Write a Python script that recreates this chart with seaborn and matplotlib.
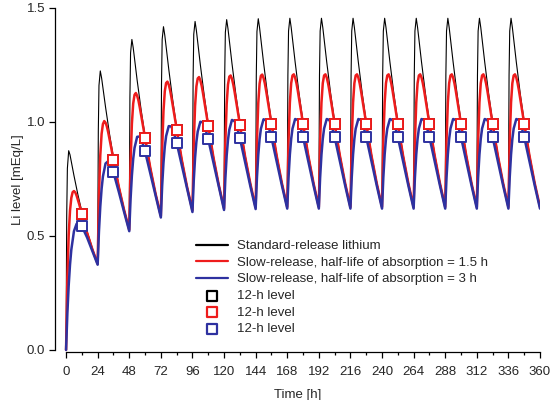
import matplotlib
matplotlib.use("Agg")
import matplotlib.pyplot as plt
import seaborn as sns
import pandas as pd

# ---------------- data ----------------
dose_times = [0, 24, 48, 72, 96, 120, 144, 168, 192, 216, 240, 264, 288, 312, 336]
end_time = 360

# standard-release lithium: hours after each dose, and level per dosing interval
std_offsets = [0, 0.5, 1, 2, 3, 6, 9, 12, 16, 20]
std_levels = [
    [0.000, 0.590, 0.796, 0.874, 0.856, 0.765, 0.681, 0.607, 0.520, 0.446],
    [0.378, 0.961, 1.160, 1.224, 1.193, 1.065, 0.948, 0.845, 0.724, 0.621],
    [0.527, 1.107, 1.303, 1.362, 1.326, 1.183, 1.054, 0.939, 0.805, 0.690],
    [0.588, 1.167, 1.362, 1.418, 1.380, 1.232, 1.097, 0.977, 0.838, 0.718],
    [0.612, 1.190, 1.385, 1.441, 1.401, 1.251, 1.114, 0.993, 0.850, 0.729],
    [0.621, 1.199, 1.393, 1.449, 1.409, 1.258, 1.120, 0.998, 0.855, 0.734],
    [0.625, 1.203, 1.397, 1.453, 1.413, 1.261, 1.123, 1.001, 0.858, 0.735],
    [0.627, 1.205, 1.399, 1.455, 1.415, 1.263, 1.124, 1.002, 0.859, 0.736],
    [0.627, 1.205, 1.399, 1.455, 1.415, 1.263, 1.124, 1.002, 0.859, 0.736],
    [0.627, 1.205, 1.399, 1.455, 1.415, 1.263, 1.124, 1.002, 0.859, 0.736],
    [0.627, 1.205, 1.399, 1.455, 1.415, 1.263, 1.124, 1.002, 0.859, 0.736],
    [0.627, 1.205, 1.399, 1.455, 1.415, 1.263, 1.124, 1.002, 0.859, 0.736],
    [0.627, 1.205, 1.399, 1.455, 1.415, 1.263, 1.124, 1.002, 0.859, 0.736],
    [0.627, 1.205, 1.399, 1.455, 1.415, 1.263, 1.124, 1.002, 0.859, 0.736],
    [0.627, 1.205, 1.399, 1.455, 1.415, 1.263, 1.124, 1.002, 0.859, 0.736],
]
std_end = 0.627

# slow-release, absorption half-life 1.5 h
sr15_offsets = [0, 1, 2, 3, 4, 5, 6, 7, 8, 10, 12, 16, 20]
sr15_levels = [
    [0.000, 0.316, 0.504, 0.611, 0.667, 0.692, 0.697, 0.691, 0.677, 0.639, 0.597, 0.513, 0.441],
    [0.378, 0.680, 0.854, 0.948, 0.991, 1.004, 0.997, 0.980, 0.955, 0.896, 0.835, 0.717, 0.616],
    [0.527, 0.823, 0.992, 1.081, 1.119, 1.127, 1.115, 1.094, 1.064, 0.997, 0.929, 0.798, 0.685],
    [0.588, 0.882, 1.048, 1.135, 1.171, 1.177, 1.164, 1.140, 1.109, 1.039, 0.967, 0.831, 0.713],
    [0.612, 0.905, 1.071, 1.156, 1.191, 1.197, 1.183, 1.159, 1.127, 1.055, 0.983, 0.843, 0.724],
    [0.621, 0.913, 1.079, 1.164, 1.199, 1.204, 1.190, 1.165, 1.133, 1.061, 0.988, 0.848, 0.729],
    [0.625, 0.917, 1.083, 1.168, 1.203, 1.208, 1.193, 1.169, 1.136, 1.064, 0.991, 0.851, 0.730],
    [0.627, 0.919, 1.085, 1.170, 1.204, 1.209, 1.195, 1.170, 1.138, 1.065, 0.992, 0.852, 0.731],
    [0.627, 0.919, 1.085, 1.170, 1.204, 1.209, 1.195, 1.170, 1.138, 1.065, 0.992, 0.852, 0.731],
    [0.627, 0.919, 1.085, 1.170, 1.204, 1.209, 1.195, 1.170, 1.138, 1.065, 0.992, 0.852, 0.731],
    [0.627, 0.919, 1.085, 1.170, 1.204, 1.209, 1.195, 1.170, 1.138, 1.065, 0.992, 0.852, 0.731],
    [0.627, 0.919, 1.085, 1.170, 1.204, 1.209, 1.195, 1.170, 1.138, 1.065, 0.992, 0.852, 0.731],
    [0.627, 0.919, 1.085, 1.170, 1.204, 1.209, 1.195, 1.170, 1.138, 1.065, 0.992, 0.852, 0.731],
    [0.627, 0.919, 1.085, 1.170, 1.204, 1.209, 1.195, 1.170, 1.138, 1.065, 0.992, 0.852, 0.731],
    [0.627, 0.919, 1.085, 1.170, 1.204, 1.209, 1.195, 1.170, 1.138, 1.065, 0.992, 0.852, 0.731],
]
sr15_end = 0.627

# slow-release, absorption half-life 3 h
sr3_offsets = [0, 1, 2, 3, 4, 6, 8, 10, 12, 16, 20]
sr3_levels = [
    [0.000, 0.161, 0.283, 0.374, 0.440, 0.521, 0.553, 0.556, 0.543, 0.493, 0.434],
    [0.374, 0.521, 0.629, 0.707, 0.761, 0.818, 0.828, 0.810, 0.779, 0.695, 0.607],
    [0.521, 0.662, 0.765, 0.838, 0.886, 0.935, 0.936, 0.910, 0.871, 0.774, 0.675],
    [0.581, 0.720, 0.821, 0.892, 0.938, 0.982, 0.980, 0.951, 0.909, 0.807, 0.703],
    [0.605, 0.743, 0.843, 0.913, 0.958, 1.001, 0.998, 0.967, 0.924, 0.820, 0.714],
    [0.614, 0.752, 0.852, 0.921, 0.966, 1.009, 1.004, 0.974, 0.930, 0.825, 0.718],
    [0.618, 0.756, 0.855, 0.925, 0.970, 1.012, 1.007, 0.976, 0.932, 0.827, 0.720],
    [0.620, 0.757, 0.857, 0.926, 0.971, 1.013, 1.009, 0.978, 0.934, 0.828, 0.721],
    [0.620, 0.757, 0.857, 0.926, 0.971, 1.013, 1.009, 0.978, 0.934, 0.828, 0.721],
    [0.620, 0.757, 0.857, 0.926, 0.971, 1.013, 1.009, 0.978, 0.934, 0.828, 0.721],
    [0.620, 0.757, 0.857, 0.926, 0.971, 1.013, 1.009, 0.978, 0.934, 0.828, 0.721],
    [0.620, 0.757, 0.857, 0.926, 0.971, 1.013, 1.009, 0.978, 0.934, 0.828, 0.721],
    [0.620, 0.757, 0.857, 0.926, 0.971, 1.013, 1.009, 0.978, 0.934, 0.828, 0.721],
    [0.620, 0.757, 0.857, 0.926, 0.971, 1.013, 1.009, 0.978, 0.934, 0.828, 0.721],
    [0.620, 0.757, 0.857, 0.926, 0.971, 1.013, 1.009, 0.978, 0.934, 0.828, 0.721],
]
sr3_end = 0.620

# 12-h levels (sampled 12 h after each dose)
level12_times = [12, 36, 60, 84, 108, 132, 156, 180, 204, 228, 252, 276, 300, 324, 348]
std_12h = [0.597, 0.835, 0.929, 0.967, 0.983, 0.988, 0.991, 0.992, 0.992, 0.992, 0.992, 0.992, 0.992, 0.992, 0.992]
sr15_12h = [0.597, 0.835, 0.929, 0.967, 0.983, 0.988, 0.991, 0.992, 0.992, 0.992, 0.992, 0.992, 0.992, 0.992, 0.992]
sr3_12h = [0.543, 0.779, 0.871, 0.909, 0.924, 0.930, 0.932, 0.934, 0.934, 0.934, 0.934, 0.934, 0.934, 0.934, 0.934]

x_ticks = [0, 24, 48, 72, 96, 120, 144, 168, 192, 216, 240, 264, 288, 312, 336, 360]
y_ticks = [0.0, 0.5, 1.0, 1.5]
y_tick_labels = ["0.0", "0.5", "1.0", "1.5"]

labels = [
    "Standard-release lithium",
    "Slow-release, half-life of absorption = 1.5 h",
    "Slow-release, half-life of absorption = 3 h",
]
colors = ["#000000", "#ee1c1c", "#2e31a0"]


def build(offsets, table, end_value):
    rows = []
    for d, vals in zip(dose_times, table):
        for o, v in zip(offsets, vals):
            rows.append((d + o, v))
    rows.append((end_time, end_value))
    return pd.DataFrame(rows, columns=["time", "level"])


# ---------------- styling ----------------
sns.set_style("ticks")
plt.rcParams["font.family"] = ["Liberation Sans", "DejaVu Sans"]
plt.rcParams["font.size"] = 9.5

fig = plt.figure(figsize=(5.53, 4.0), dpi=100)
ax = fig.add_axes([55 / 553, 48 / 400, 485 / 553, 344 / 400])

series = [
    (build(std_offsets, std_levels, std_end), 0.8),
    (build(sr15_offsets, sr15_levels, sr15_end), 1.8),
    (build(sr3_offsets, sr3_levels, sr3_end), 1.8),
]
for (df, lw), lab, col in zip(series, labels, colors):
    sns.lineplot(data=df, x="time", y="level", ax=ax, color=col, linewidth=lw,
                 label=lab, estimator=None, sort=False, zorder=2)

for vals, col in zip([std_12h, sr15_12h, sr3_12h], colors):
    sq = pd.DataFrame({"time": level12_times, "level": vals})
    sns.scatterplot(data=sq, x="time", y="level", ax=ax, marker="s", s=42,
                    facecolor="white", edgecolor=col, linewidth=1.4,
                    label="12-h level", zorder=3)

ax.set_xlim(-8.4, 360)
ax.set_ylim(-0.009, 1.5)
ax.set_xticks(x_ticks)
ax.set_xticks([t + 12 for t in x_ticks[:-1]], minor=True)
ax.set_yticks(y_ticks)
ax.set_yticklabels(y_tick_labels)
ax.tick_params(axis="both", which="major", length=4, width=0.9, color="black",
               labelsize=9.5)
ax.tick_params(axis="x", which="major", pad=6)
ax.tick_params(axis="y", which="major", pad=3)
ax.tick_params(axis="x", which="minor", length=2.5, width=0.9, color="black")

for side in ["top", "right"]:
    ax.spines[side].set_visible(False)
for side in ["left", "bottom"]:
    ax.spines[side].set_linewidth(0.9)
    ax.spines[side].set_color("black")
ax.spines["bottom"].set_bounds(0, 360)
ax.spines["left"].set_bounds(0, 1.5)

ax.set_xlabel("Time [h]", fontsize=9.5, labelpad=8)
ax.set_ylabel("Li level [mEq/L]", fontsize=9.5, labelpad=2)

handles, labs = ax.get_legend_handles_labels()
leg = ax.legend(handles, labs, loc="upper left", frameon=False,
                bbox_to_anchor=(196 / 553, 1 - 240 / 400),
                bbox_transform=fig.transFigure, borderpad=0, borderaxespad=0,
                handlelength=2.4, handletextpad=0.7, labelspacing=0.33,
                fontsize=9.5, scatterpoints=1)
for h in leg.legend_handles:
    try:
        h.set_linewidth(1.6)
    except Exception:
        pass

fig.savefig("out.png", dpi=100)
